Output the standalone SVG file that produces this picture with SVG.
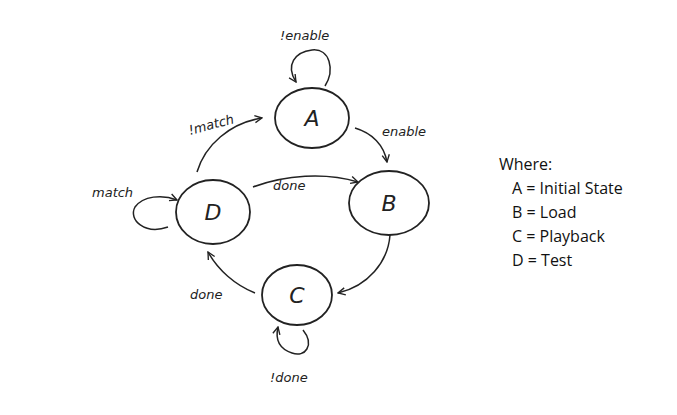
<svg xmlns="http://www.w3.org/2000/svg" width="677" height="415" viewBox="0 0 677 415">
<defs>
<marker id="ar" viewBox="0 0 10 10" refX="9" refY="5" markerWidth="9" markerHeight="9" orient="auto" markerUnits="userSpaceOnUse">
<path d="M1,1 L9,5 L1,9" fill="none" stroke="#222" stroke-width="1.5"/>
</marker>
<style>
.n{fill:none;stroke:#222;stroke-width:1.8}
.e{fill:none;stroke:#222;stroke-width:1.5;marker-end:url(#ar)}
.h{font-family:"DejaVu Sans",sans-serif;font-style:italic;fill:#222;font-size:13px}
.s{font-family:"DejaVu Sans",sans-serif;font-style:italic;fill:#222;font-size:22px;text-anchor:middle}
.l{font-family:"Open Sans","Liberation Sans",sans-serif;fill:#111;font-size:16px}
</style>
</defs>
<rect width="677" height="415" fill="#fff"/>
<g id="A"><ellipse class="n" cx="312" cy="118" rx="37" ry="30"/><text class="s" x="312" y="126">A</text></g>
<g id="B"><ellipse class="n" cx="389" cy="203" rx="40" ry="32"/><text class="s" x="389" y="211">B</text></g>
<g id="C"><ellipse class="n" cx="297" cy="295" rx="35" ry="30"/><text class="s" x="297" y="303">C</text></g>
<g id="D"><ellipse class="n" cx="213" cy="212" rx="37" ry="32"/><text class="s" x="213" y="220">D</text></g>
<g id="connectors">
<path class="e" d="M325,86 C335,70 330,48 312,50 C295,52 285,65 296,82"/>
<path class="e" d="M355,128 C372,133 384,145 387,162"/>
<path class="e" d="M197,172 C205,145 230,123 262,118"/>
<path class="e" d="M253,187 C285,175 325,172 358,182"/>
<path class="e" d="M168,227 C145,235 128,220 135,207 C143,196 162,194 177,200"/>
<path class="e" d="M390,235 C388,262 368,286 338,293"/>
<path class="e" d="M255,293 C235,285 218,270 208,252"/>
<path class="e" d="M303,330 C315,345 305,358 292,353 C280,349 275,340 278,327"/>
</g>
<g id="labels">
<text class="h" x="280" y="40">!enable</text>
<text class="h" x="382" y="136">enable</text>
<text class="h" x="190" y="135" transform="rotate(-15 190 135)">!match</text>
<text class="h" x="273" y="190">done</text>
<text class="h" x="92" y="197">match</text>
<text class="h" x="190" y="299">done</text>
<text class="h" x="270" y="382">!done</text>
</g>
<g id="legend">
<text class="l" x="499" y="170">Where:</text>
<text class="l" x="512" y="194">A = Initial State</text>
<text class="l" x="512" y="218">B = Load</text>
<text class="l" x="512" y="242">C = Playback</text>
<text class="l" x="512" y="266">D = Test</text>
</g>
</svg>
